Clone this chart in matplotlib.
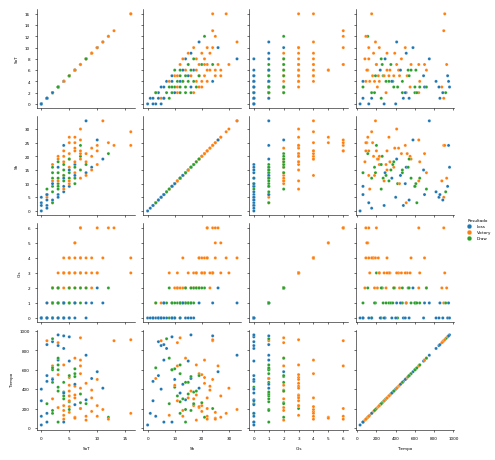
import matplotlib
matplotlib.use("Agg")
import matplotlib.pyplot as plt
import seaborn as sns
import pandas as pd

SoT = [0,0,1,1,1,2,2,2,2,3,3,3,3,3,4,4,4,4,4,4,5,5,5,5,5,6,6,6,6,6,7,7,7,7,7,8,8,8,8,9,9,9,10,10,10,11,11,12,13,16,
       1,2,3,4,5,6,7,2,3,4,5,6,3,4,5,2,1,0,4,5,6,7,8,9,3,2,4,5,6,7,1,2,3,4,5,6,8,10,12,16,0,1,2,3,4,5,6,7,3,2]
Sh = [0,3,2,5,8,4,9,12,17,6,10,14,19,20,7,11,13,15,18,22,9,12,16,21,25,10,14,17,23,27,12,15,19,24,26,14,18,21,33,16,20,23,17,22,26,19,33,21,24,29,
      6,7,11,13,15,18,20,3,5,8,10,12,16,17,19,11,4,2,24,27,25,22,13,15,9,14,12,14,16,21,1,3,8,9,11,13,17,24,25,24,5,6,16,18,20,19,22,30,12,10]
Gls = [0,0,0,1,0,0,1,0,2,1,0,1,2,3,0,1,2,1,3,4,0,1,2,3,4,1,2,0,3,5,2,1,4,3,6,0,2,3,1,1,4,2,3,6,2,1,4,2,6,4,
       0,1,2,1,0,3,2,1,0,3,2,1,0,1,4,2,0,0,1,3,5,6,4,3,1,2,0,1,2,4,0,1,2,0,3,1,2,3,6,3,0,1,1,2,3,2,4,3,1,0]
Tiempo = [30,120,480,900,250,890,600,150,300,700,420,60,210,550,820,330,180,470,650,90,940,270,380,520,160,610,720,240,430,110,930,350,560,200,640,290,80,460,750,510,170,390,230,120,580,410,190,110,900,150,
          60,920,880,300,690,340,260,510,850,130,440,560,960,370,220,640,540,280,950,330,100,200,120,310,600,470,360,190,530,700,150,620,720,60,280,450,250,500,90,910,400,860,180,380,230,540,310,410,650,500]
R = ["Loss","Loss","Loss","Victory","Draw","Loss","Draw","Draw","Victory","Loss","Draw","Draw","Victory","Victory","Loss","Draw","Victory","Draw","Victory","Victory",
     "Loss","Draw","Victory","Victory","Victory","Draw","Victory","Loss","Victory","Victory","Victory","Draw","Victory","Draw","Victory","Loss","Victory","Victory","Loss","Loss",
     "Victory","Victory","Victory","Victory","Loss","Loss","Victory","Draw","Victory","Victory",
     "Loss","Draw","Victory","Draw","Loss","Victory","Draw","Victory","Loss","Victory","Victory","Draw","Loss","Draw","Victory","Victory","Loss","Loss","Loss","Victory",
     "Victory","Victory","Victory","Victory","Draw","Draw","Loss","Draw","Draw","Victory","Loss","Draw","Draw","Loss","Victory","Loss","Draw","Victory","Victory","Victory",
     "Loss","Loss","Draw","Draw","Victory","Draw","Victory","Victory","Draw","Loss"]

df = pd.DataFrame({"SoT": SoT, "Sh": Sh, "Gls": Gls, "Tiempo": Tiempo, "Resultado": R})

plt.rcParams.update({"font.size": 3, "axes.labelsize": 3, "xtick.labelsize": 3,
                     "ytick.labelsize": 3, "legend.fontsize": 3, "legend.title_fontsize": 3,
                     "axes.linewidth": 0.4, "xtick.major.width": 0.4, "ytick.major.width": 0.4,
                     "xtick.major.size": 1.5, "ytick.major.size": 1.5})
g = sns.PairGrid(df, hue="Resultado", hue_order=["Loss", "Victory", "Draw"], height=1.1)
g.map(sns.scatterplot, s=5, linewidth=0.15, edgecolor="white")
g.add_legend(markerscale=1.5)
g.fig.set_size_inches(4.74, 4.47)
g.fig.subplots_adjust(left=0.05, right=0.93, bottom=0.05, top=0.99, wspace=0.08, hspace=0.08)
g.savefig("out.png", dpi=100)
